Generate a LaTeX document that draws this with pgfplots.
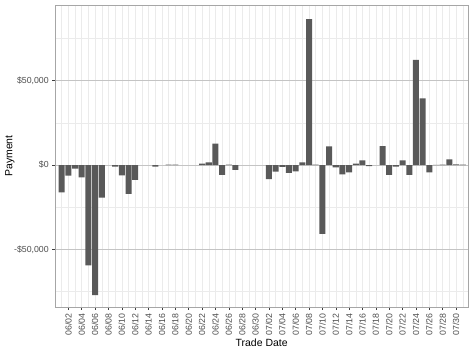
\documentclass[border=0pt]{standalone}
\usepackage{pgfplots}
\pgfplotsset{compat=1.18}
\usepackage{fontspec}
\setmainfont{Liberation Sans}
\definecolor{barc}{HTML}{595959}
\definecolor{tickc}{HTML}{4D4D4D}
\definecolor{hmaj}{HTML}{C4C4C4}
\definecolor{lgrid}{HTML}{EBEBEB}
\definecolor{border}{HTML}{A6A6A6}
\begin{document}
\begin{tikzpicture}
\path[use as bounding box] (-55bp,-48bp) rectangle (419bp,307bp);
\begin{axis}[
  at={(0,0)}, anchor=south west,
  scale only axis, width=413.3bp, height=302bp,
  xmin=0.0, xmax=61.83, ymin=-84200, ymax=94900,
  axis line style={draw=border, line width=0.8bp},
  xtick={2,4,...,60},
  xticklabels={06/02,06/04,06/06,06/08,06/10,06/12,06/14,06/16,06/18,06/20,06/22,06/24,06/26,06/28,06/30,07/02,07/04,07/06,07/08,07/10,07/12,07/14,07/16,07/18,07/20,07/22,07/24,07/26,07/28,07/30},
  minor xtick={1,3,...,61},
  ytick={-50000,0,50000},
  yticklabels={{-\$50,000},{\$0},{\$50,000}},
  minor ytick={-75000,-25000,25000,75000},
  scaled y ticks=false,
  xmajorgrids, xminorgrids, ymajorgrids, yminorgrids,
  major x grid style={draw=lgrid, line width=0.5bp},
  minor x grid style={draw=lgrid, line width=0.4bp},
  major y grid style={draw=hmaj, line width=0.6bp},
  minor y grid style={draw=lgrid, line width=0.4bp},
  tick align=outside, tick pos=left,
  major tick length=2.75bp, minor tick length=0pt,
  major tick style={draw=tickc!80!black, line width=0.5bp},
  xticklabel style={rotate=90, anchor=east, font=\fontsize{8.8}{10}\selectfont, text=tickc},
  yticklabel style={font=\fontsize{8.8}{10}\selectfont, text=tickc},
  xlabel={Trade Date}, ylabel={Payment},
  label style={font=\fontsize{10.5}{12}\selectfont, text=black},
  xlabel style={at={(axis description cs:0.5,-0.119)}, anchor=center},
  ylabel style={at={(axis description cs:-0.109,0.5)}, anchor=center},
]
\addplot[ybar, bar width=0.9, fill=barc, draw=none] coordinates {
(1,-16200) (2,-6300) (3,-2200) (4,-7300) (5,-59500) (6,-77200) (7,-19400)
(9,-1000) (10,-6100) (11,-17100) (12,-8800)
(15,-1000) (17,300) (18,200)
(22,800) (23,1500) (24,12700) (25,-5800) (26,300) (27,-2900)
(32,-8300) (33,-3900) (34,-1100) (35,-4700) (36,-3800) (37,1600)
(38,86500) (39,300) (40,-40800) (41,11100) (42,-1400) (43,-5500) (44,-4300)
(45,800) (46,2800) (47,-700) (49,11200) (50,-5800) (51,-900) (52,2800)
(53,-5800) (54,62300) (55,39500) (56,-4400) (57,100) (58,200) (59,3400) (60,400) (61,200)
};
\end{axis}
\end{tikzpicture}
\end{document}
